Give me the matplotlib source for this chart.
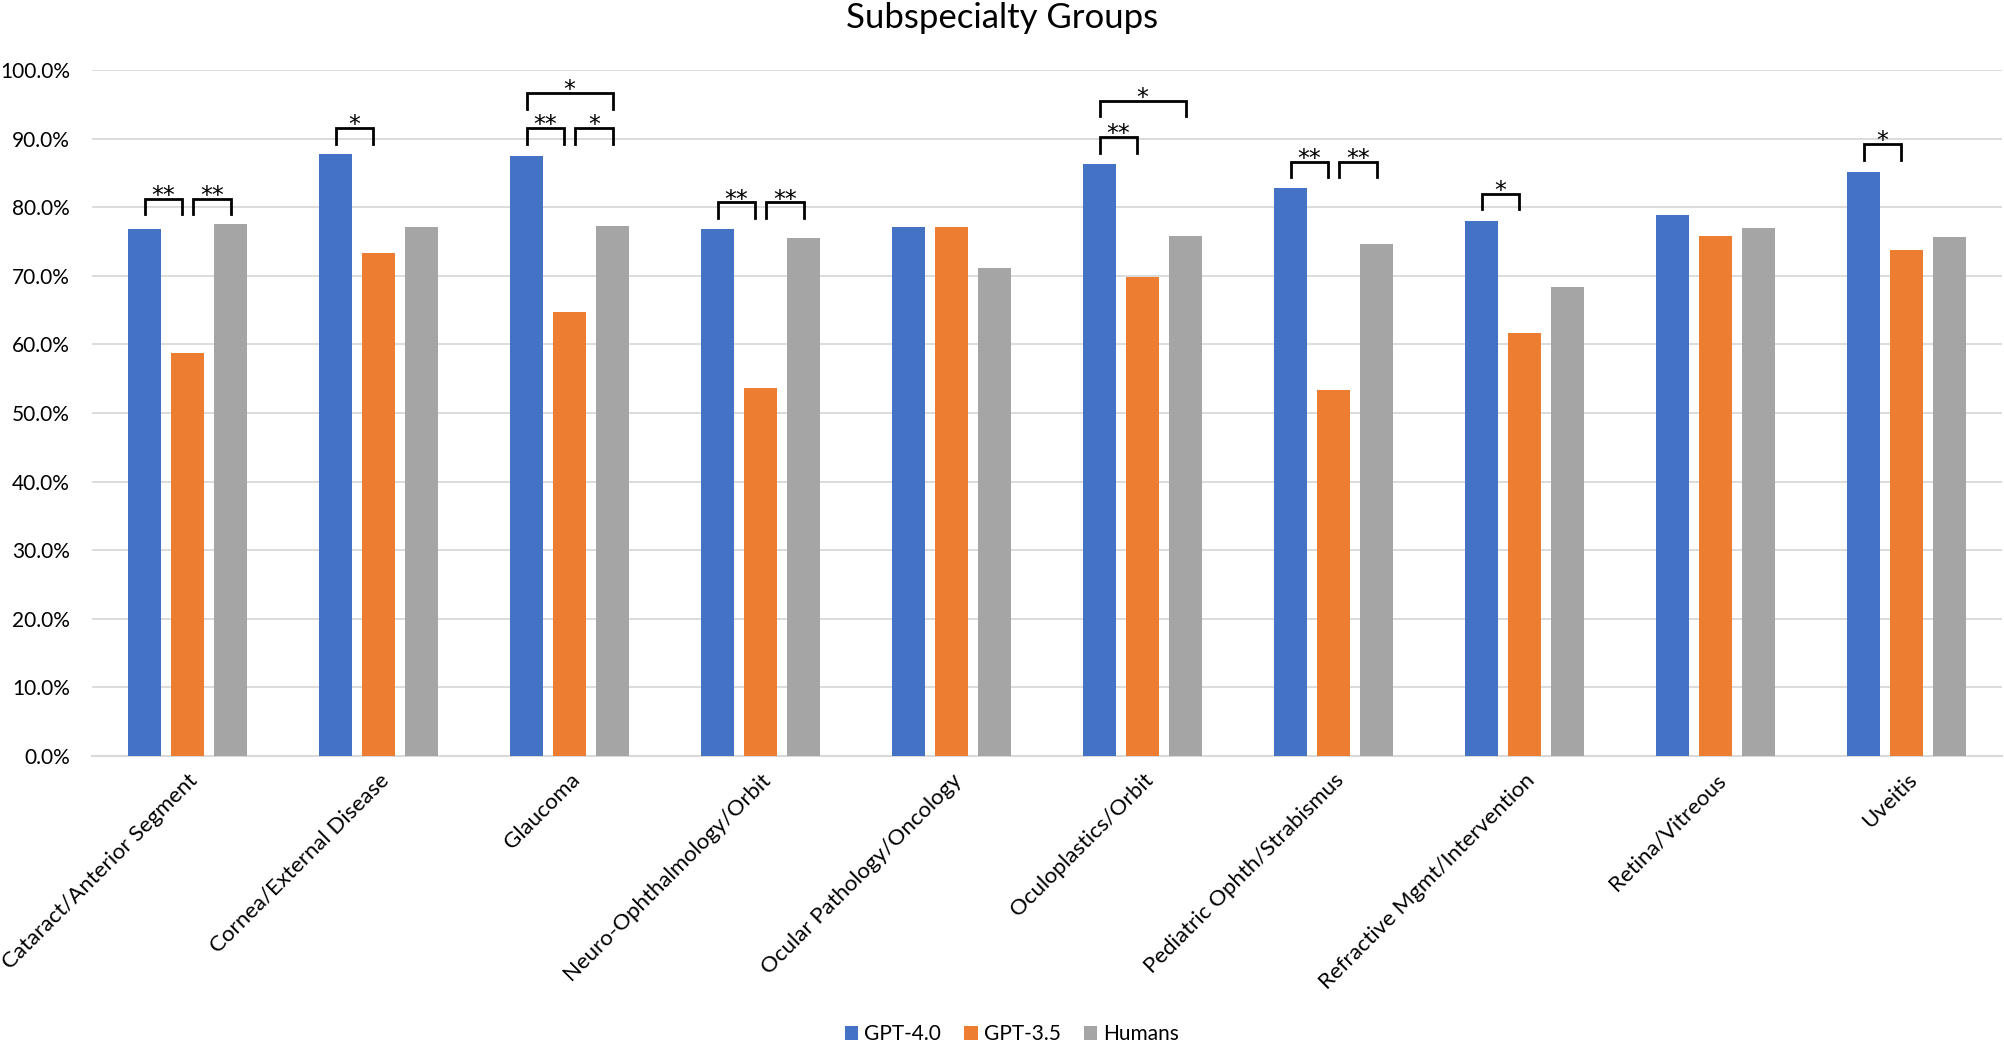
import matplotlib.pyplot as plt
from matplotlib.ticker import PercentFormatter

plt.rcParams['font.family'] = ['Lato', 'DejaVu Sans']

# data (percent correct)
categories = ['Cataract/Anterior Segment', 'Cornea/External Disease', 'Glaucoma',
              'Neuro-Ophthalmology/Orbit', 'Ocular Pathology/Oncology', 'Oculoplastics/Orbit',
              'Pediatric Ophth/Strabismus', 'Refractive Mgmt/Intervention', 'Retina/Vitreous',
              'Uveitis']
gpt4 = [76.8, 87.7, 87.4, 76.8, 77.1, 86.3, 82.8, 78.0, 78.9, 85.1]
gpt35 = [58.7, 73.4, 64.7, 53.6, 77.1, 69.8, 53.3, 61.7, 75.8, 73.7]
humans = [77.5, 77.1, 77.2, 75.5, 71.2, 75.8, 74.7, 68.3, 76.9, 75.6]
series_names = ['GPT-4.0', 'GPT-3.5', 'Humans']

# significance brackets: (group, first bar, second bar, bracket top %, label)
brackets = [
    (0, 0, 1, 81.2, '**'), (0, 1, 2, 81.2, '**'),
    (1, 0, 1, 91.5, '*'),
    (2, 0, 1, 91.5, '**'), (2, 1, 2, 91.5, '*'), (2, 0, 2, 96.6, '*'),
    (3, 0, 1, 80.7, '**'), (3, 1, 2, 80.7, '**'),
    (5, 0, 1, 90.2, '**'), (5, 0, 2, 95.5, '*'),
    (6, 0, 1, 86.6, '**'), (6, 1, 2, 86.6, '**'),
    (7, 0, 1, 82.0, '*'),
    (9, 0, 1, 89.2, '*'),
]

COLORS = ['#4472C4', '#ED7D31', '#A5A5A5']
BAR_W = 0.173
STEP = 0.225

fig = plt.figure(figsize=(20.04, 10.45), dpi=100)
ax = fig.add_axes([0.046, 0.2765, 0.953, 0.6565])

x = list(range(len(categories)))
for k, vals in enumerate([gpt4, gpt35, humans]):
    pos = [xi + (k - 1) * STEP for xi in x]
    ax.bar(pos, vals, width=BAR_W, color=COLORS[k], label=series_names[k], zorder=3)

# brackets with stars
leg = 2.25
shrink = 0.03
for g, i, j, top, lab in brackets:
    x1 = g + (i - 1) * STEP
    x2 = g + (j - 1) * STEP
    if j - i == 1:
        if i == 0:
            x2 -= shrink
        else:
            x1 += shrink
    ax.plot([x1, x1, x2, x2], [top - leg, top, top, top - leg], color='black',
            lw=2.0, solid_joinstyle='miter', zorder=4)
    ax.text((x1 + x2) / 2, top - 0.6, lab, ha='center', va='baseline', fontsize=17,
            family='DejaVu Sans', zorder=4)

ax.set_xlim(-0.5, len(categories) - 0.5)
ax.set_ylim(0, 100)
ax.set_yticks(range(0, 101, 10))
ax.yaxis.set_major_formatter(PercentFormatter(decimals=1))
ax.grid(axis='y', color='#D9D9D9', lw=1.3, zorder=0)
for s in ['top', 'right', 'left']:
    ax.spines[s].set_visible(False)
ax.spines['bottom'].set_color('#D9D9D9')
ax.spines['bottom'].set_linewidth(1.5)
ax.tick_params(axis='both', length=0, labelsize=15, colors='#404040', labelcolor='black')
ax.tick_params(axis='y', pad=16)
ax.tick_params(axis='x', pad=10, labelsize=16)
ax.set_xticks(x)
ax.set_xticklabels(categories, rotation=45, ha='right', rotation_mode='anchor')

fig.text(0.5, 0.983, 'Subspecialty Groups', ha='center', va='center', fontsize=25)
fig.legend(loc='center', bbox_to_anchor=(0.505, 0.0105), ncol=3, frameon=False,
           fontsize=15, handlelength=0.65, handleheight=0.65, handletextpad=0.3,
           columnspacing=1.1)

fig.savefig('out.png', dpi=100)
